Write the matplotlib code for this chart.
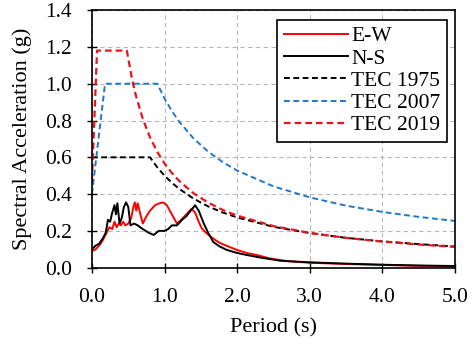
import numpy as np
import matplotlib.pyplot as plt

plt.rcParams["font.family"] = ["Liberation Serif", "DejaVu Serif"]

t_ew = [0.00, 0.05, 0.10, 0.15, 0.20, 0.24, 0.28, 0.31, 0.34, 0.37, 0.40, 0.43, 0.46, 0.50,
        0.54, 0.57, 0.59, 0.61, 0.63, 0.66, 0.70, 0.75, 0.80, 0.87, 0.93, 0.98, 1.03, 1.10,
        1.17, 1.23, 1.30, 1.37, 1.42, 1.47, 1.51, 1.57, 1.63, 1.70, 1.77, 1.88, 2.00, 2.15,
        2.27, 2.45, 2.70, 3.00, 3.50, 4.00, 4.50, 5.00]
s_ew = [0.09, 0.10, 0.12, 0.15, 0.19, 0.22, 0.21, 0.25, 0.22, 0.24, 0.23, 0.25, 0.23, 0.24,
        0.27, 0.33, 0.355, 0.31, 0.35, 0.30, 0.24, 0.28, 0.31, 0.34, 0.35, 0.355, 0.34, 0.29,
        0.24, 0.26, 0.29, 0.32, 0.30, 0.25, 0.215, 0.19, 0.17, 0.15, 0.133, 0.115, 0.096, 0.078,
        0.069, 0.05, 0.035, 0.027, 0.02, 0.015, 0.01, 0.007]

t_ns = [0.00, 0.05, 0.10, 0.15, 0.19, 0.22, 0.25, 0.28, 0.31, 0.33, 0.35, 0.38, 0.41, 0.44,
        0.47, 0.50, 0.53, 0.58, 0.63, 0.70, 0.78, 0.85, 0.92, 1.00, 1.05, 1.10, 1.17, 1.24,
        1.30, 1.36, 1.42, 1.47, 1.54, 1.60, 1.67, 1.76, 1.86, 2.00, 2.13, 2.32, 2.59, 3.00,
        3.50, 4.00, 4.50, 5.00]
s_ns = [0.10, 0.12, 0.13, 0.16, 0.19, 0.26, 0.25, 0.30, 0.34, 0.29, 0.35, 0.24, 0.27, 0.33,
        0.355, 0.33, 0.23, 0.24, 0.23, 0.21, 0.19, 0.178, 0.20, 0.20, 0.21, 0.23, 0.23, 0.26,
        0.28, 0.31, 0.339, 0.31, 0.24, 0.19, 0.14, 0.115, 0.096, 0.08, 0.069, 0.055, 0.038, 0.029,
        0.022, 0.016, 0.012, 0.009]

# design spectra
t_1975 = [0.0, 0.8, 0.9, 1.0, 1.1, 1.2, 1.4, 1.6, 1.8, 2.0, 2.5, 3.0, 3.5, 4.0, 4.5, 5.0]
s_1975 = [0.6, 0.6, 0.545, 0.5, 0.462, 0.429, 0.375, 0.333, 0.3, 0.273, 0.222, 0.188, 0.162,
          0.143, 0.128, 0.115]

t_2007 = [0.0, 0.18, 0.9, 1.0, 1.1, 1.2, 1.4, 1.6, 1.8, 2.0, 2.5, 3.0, 3.5, 4.0, 4.5, 5.0]
s_2007 = [0.4, 1.0, 1.0, 0.919, 0.852, 0.794, 0.702, 0.631, 0.574, 0.528, 0.442, 0.382, 0.337,
          0.303, 0.276, 0.254]

t_2019 = [0.0, 0.07, 0.48, 0.55, 0.6, 0.7, 0.8, 0.9, 1.0, 1.1, 1.2, 1.4, 1.6, 1.8, 2.0, 2.5,
          3.0, 3.5, 4.0, 4.5, 5.0]
s_2019 = [0.47, 1.18, 1.18, 1.03, 0.943, 0.809, 0.708, 0.629, 0.566, 0.515, 0.472, 0.404, 0.354,
          0.314, 0.283, 0.226, 0.189, 0.162, 0.142, 0.126, 0.113]

fig = plt.figure(figsize=(4.74, 3.49), dpi=100)
ax = fig.add_axes([0.194, 0.233, 0.766, 0.738])

dash = (3.0, 1.8)
ax.plot(t_ew, s_ew, color="red", lw=1.4, label="E-W")
ax.plot(t_ns, s_ns, color="black", lw=1.4, label="N-S")
ax.plot(t_1975, s_1975, color="black", lw=1.4, ls=(0, dash), label="TEC 1975")
ax.plot(t_2007, s_2007, color="#1f78c8", lw=1.4, ls=(0, dash), label="TEC 2007")
ax.plot(t_2019, s_2019, color="#e8141c", lw=1.6, ls=(0, dash), label="TEC 2019")

ax.set_xlim(0, 5)
ax.set_ylim(0, 1.4)
ax.set_xticks(np.arange(0, 5.01, 1.0))
ax.set_yticks(np.arange(0, 1.41, 0.2))
ax.xaxis.set_major_formatter(plt.FormatStrFormatter("%.1f"))
ax.yaxis.set_major_formatter(plt.FormatStrFormatter("%.1f"))
ax.tick_params(labelsize=15.5, direction="inout", length=7, width=1, pad=11)
ax.grid(True, color="#b8b8b8", ls=(0, (4, 3)), lw=0.8)
for sp in ax.spines.values():
    sp.set_linewidth(1.2)

ax.set_xlabel("Period (s)", fontsize=16, labelpad=8)
ax.set_ylabel("Spectral Acceleration (g)", fontsize=16, labelpad=9)

leg = ax.legend(loc="upper right", bbox_to_anchor=(0.978, 0.962), fontsize=15.5,
                fancybox=False, framealpha=1, edgecolor="black", handlelength=3.0,
                borderaxespad=0, labelspacing=0.1, borderpad=0.3, handletextpad=0.15)
leg.get_frame().set_linewidth(1.2)

fig.savefig("out.png", dpi=100)
